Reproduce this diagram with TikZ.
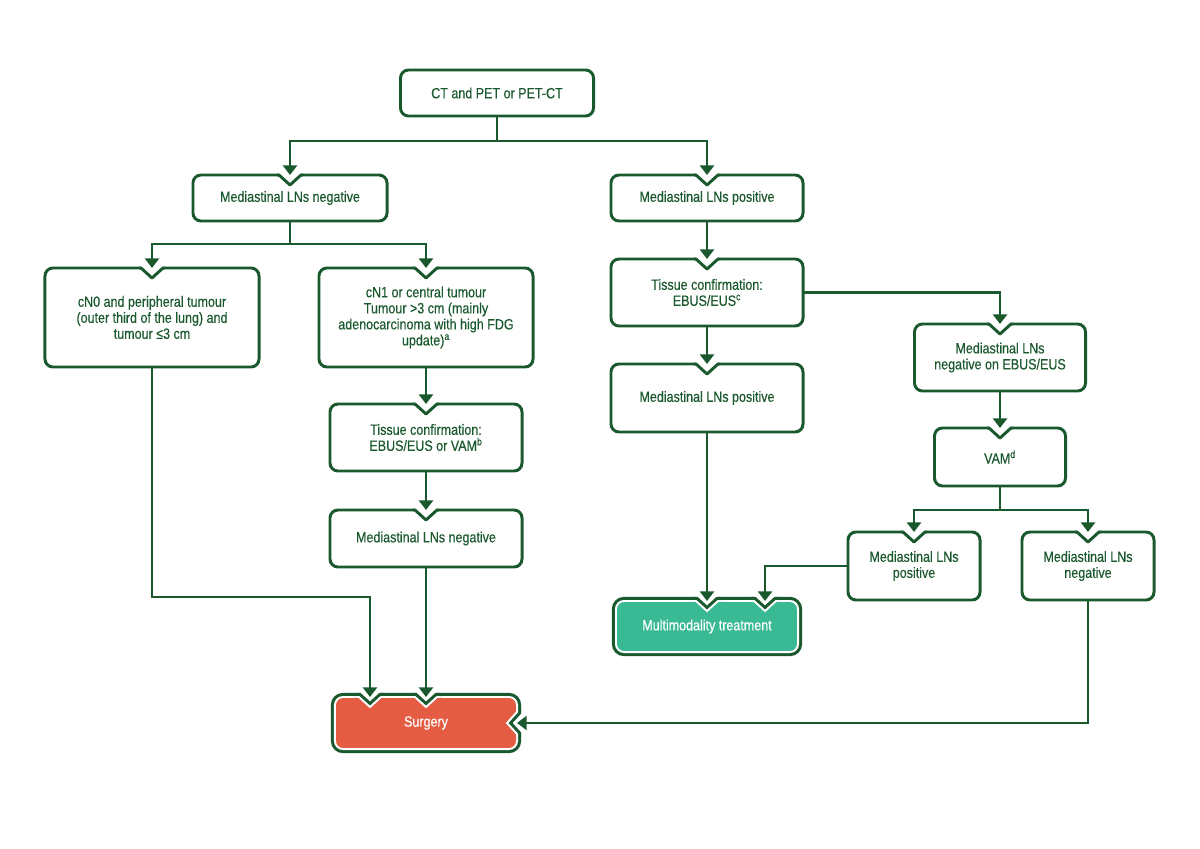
\documentclass[tikz,border=0pt]{standalone}
\usepackage{fontspec}
\setmainfont{Liberation Sans}[FakeStretch=0.84, FakeBold=0.3]
\usetikzlibrary{arrows.meta}
\definecolor{dkgreen}{RGB}{26,88,46}
\definecolor{mmteal}{RGB}{58,186,148}
\definecolor{sgred}{RGB}{228,92,66}
\tikzset{   box/.style = {rectangle, rounded corners=0.2cm, draw = dkgreen, line width=2.1pt, fill = white, text = dkgreen, align = center, outer sep=0pt, font=\fontsize{10.6}{11.4}\selectfont},
            endbox/.style = {rectangle, rounded corners=0.2cm, draw = white, line width=1.4pt, fill = #1, preaction={draw=dkgreen, line width=5.8pt}, text = white, align = center, outer sep=0pt, font=\fontsize{10.6}{11.4}\selectfont},
            boxsize/.style 2 args = {minimum width=#1, minimum height=#2},
            conn/.style = {dkgreen, line width=2pt, -{Triangle[width=0.35cm, length=0.24cm]}}}
% V-shaped bite in a plain box border
\newcommand{\vnotch}[2]{%
  \begin{scope}[shift={(#1)}, rotate=#2]
    \fill[white] (-11,0) -- (0,-10) -- (11,0) -- (11,4) -- (-11,4) -- cycle;
    \draw[dkgreen, line width=2.1pt, line join=round] (-13,0) -- (-11,0) -- (0,-10) -- (11,0) -- (13,0);
  \end{scope}}
% same for the filled boxes with their double border
\newcommand{\fillnotch}[3]{%
  \begin{scope}[shift={(#1)}, rotate=#2]
    \fill[white] (-11,0) -- (0,-10) -- (11,0) -- (11,7) -- (-11,7) -- cycle;
    \draw[dkgreen, line width=5.8pt] (-14,0) -- (-11,0) -- (0,-10) -- (11,0) -- (14,0);
    \fill[#3] (-17,-1) -- (-11,-1) -- (0,-11) -- (11,-1) -- (17,-1) -- (17,-17) -- (-17,-17) -- cycle;
    \draw[white, line width=1.4pt] (-14,0) -- (-11,0) -- (0,-10) -- (11,0) -- (14,0);
  \end{scope}}

\begin{document}
\begin{tikzpicture}[x=0.025cm, y=0.025cm]
\useasboundingbox (0,0) rectangle (1200,-848);

% boxes
\node[box, boxsize={4.825cm}{1.15cm}] (ct) at (497,-93) {CT and PET or PET-CT};
\node[box, boxsize={4.85cm}{1.15cm}] (mneg) at (290,-198) {Mediastinal LNs negative};
\node[box, boxsize={4.8cm}{1.15cm}] (mpos) at (707,-198) {Mediastinal LNs positive};
\node[box, boxsize={5.35cm}{2.475cm}] (cnzero) at (152,-317.5) {cN0 and peripheral tumour\\(outer third of the lung) and\\tumour ≤3 cm};
\node[box, boxsize={5.35cm}{2.475cm}] (cnone) at (426,-317.5) {cN1 or central tumour\\Tumour >3 cm (mainly\\adenocarcinoma with high FDG\\update)\textsuperscript{a}};
\node[box, boxsize={4.8cm}{1.675cm}] (tisright) at (707,-292.5) {Tissue confirmation:\\EBUS/EUS\textsuperscript{c}};
\node[box, boxsize={4.275cm}{1.675cm}] (mnegebus) at (1000,-357.5) {Mediastinal LNs\\negative on EBUS/EUS};
\node[box, boxsize={4.8cm}{1.675cm}] (tisleft) at (426,-437.5) {Tissue confirmation:\\EBUS/EUS or VAM\textsuperscript{b}};
\node[box, boxsize={4.8cm}{1.7cm}] (mposmid) at (707,-398) {Mediastinal LNs positive};
\node[box, boxsize={3.275cm}{1.45cm}] (vam) at (1000,-457) {VAM\textsuperscript{d}};
\node[box, boxsize={4.8cm}{1.425cm}] (mnegleft) at (426,-538.5) {Mediastinal LNs negative};
\node[box, boxsize={3.3cm}{1.7cm}] (mposvam) at (914,-566) {Mediastinal LNs\\positive};
\node[box, boxsize={3.3cm}{1.7cm}] (mnegvam) at (1088,-566) {Mediastinal LNs\\negative};
\node[endbox=mmteal, boxsize={4.55cm}{1.275cm}] (multi) at (707,-626.5) {Multimodality treatment};
\node[endbox=sgred, boxsize={4.55cm}{1.3cm}] (surg) at (426,-723) {Surgery};

\coordinate (sgleft) at ([xshift=-1.4cm]surg.north);
\coordinate (mmright) at ([xshift=1.45cm]multi.north);

% notches
\foreach \n in {mneg,mpos,cnzero,cnone,tisright,mnegebus,tisleft,mposmid,vam,mnegleft,mposvam,mnegvam}
  {\vnotch{\n.north}{0}}
\fillnotch{multi.north}{0}{mmteal}
\fillnotch{mmright}{0}{mmteal}
\fillnotch{surg.north}{0}{sgred}
\fillnotch{sgleft}{0}{sgred}
\fillnotch{surg.east}{-90}{sgred}

% connectors
\draw[conn] (ct.south) -- ++(0,-25) -| (mneg.north);
\draw[conn] (ct.south) -- ++(0,-25) -| (mpos.north);
\draw[conn] (mneg.south) -- ++(0,-23) -| (cnzero.north);
\draw[conn] (mneg.south) -- ++(0,-23) -| (cnone.north);
\draw[conn] (mpos.south) -- (tisright.north);
\draw[conn] (tisright.east) -| (mnegebus.north);
\draw[conn] (tisright.south) -- (mposmid.north);
\draw[conn] (mnegebus.south) -- (vam.north);
\draw[conn] (vam.south) -- ++(0,-24) -| (mposvam.north);
\draw[conn] (vam.south) -- ++(0,-24) -| (mnegvam.north);
\draw[conn] (cnone.south) -- (tisleft.north);
\draw[conn] (tisleft.south) -- (mnegleft.north);
\draw[conn] (mnegleft.south) -- (surg.north);
\draw[conn] (cnzero.south) -- ++(0,-230) -| (sgleft);
\draw[conn] (mposmid.south) -- (multi.north);
\draw[conn] (mposvam.west) -| (mmright);
\draw[conn] (mnegvam.south) |- (surg.east);
\end{tikzpicture}
\end{document}
